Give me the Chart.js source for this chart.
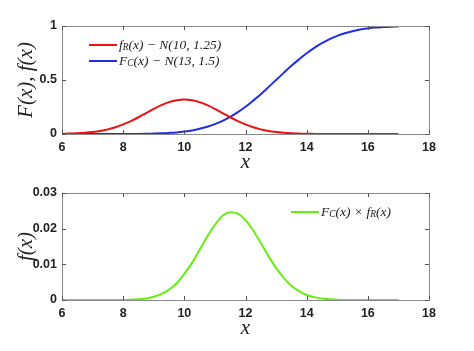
<!DOCTYPE html>
<html>
<head>
<meta charset="utf-8">
<script src="https://cdn.jsdelivr.net/npm/chart.js@4"></script>
<style>
  body { margin: 0; background: #fff; }
  #wrap { position: relative; width: 474px; height: 351px; }
  .box { position: absolute; left: 0; width: 474px; }
</style>
</head>
<body>
<div id="wrap">
  <div class="box" style="top:0;height:175px"><canvas id="top"></canvas></div>
  <div class="box" style="top:175px;height:176px"><canvas id="bottom"></canvas></div>
</div>
<script>
// valores (paso 0.25 en x)
const xs = [6,6.25,6.5,6.75,7,7.25,7.5,7.75,8,8.25,8.5,8.75,9,9.25,9.5,9.75,10,10.25,10.5,10.75,11,11.25,11.5,11.75,12,12.25,12.5,12.75,13,13.25,13.5,13.75,14,14.25,14.5,14.75,15,15.25,15.5,15.75,16,16.25,16.5,16.75,17];
const fR = [0.002,0.004,0.006,0.011,0.018,0.028,0.043,0.063,0.089,0.120,0.155,0.194,0.232,0.267,0.295,0.313,0.319,0.313,0.295,0.267,0.232,0.194,0.155,0.120,0.089,0.063,0.043,0.028,0.018,0.011,0.006,0.004,0.002,0.001,0,0,0,0,0,0,0,0,0,0,0];
const FC = [0,0,0,0,0,0,0,0,0,0.001,0.001,0.002,0.004,0.006,0.010,0.015,0.023,0.033,0.048,0.067,0.091,0.122,0.159,0.202,0.252,0.309,0.369,0.434,0.5,0.566,0.631,0.691,0.748,0.798,0.841,0.878,0.909,0.933,0.952,0.967,0.977,0.985,0.990,0.994,0.996];
const prod = [0,0,0,0,0,0,0,0,0,0.0001,0.0002,0.0004,0.0009,0.0017,0.0029,0.0047,0.0073,0.0104,0.0141,0.0178,0.0211,0.0236,0.0246,0.0242,0.0224,0.0195,0.0160,0.0123,0.0090,0.0062,0.0040,0.0025,0.0014,0.0008,0.0004,0.0002,0.0001,0,0,0,0,0,0,0,0];
const xTicks = [6,8,10,12,14,16,18];
const yTicksTop = [0,0.5,1];
const yTicksBot = [0,0.01,0.02,0.03];

const rojo = '#ee1111', azul = '#1f2fe0', verde = '#66ee11';
const serif = '"Liberation Serif", "DejaVu Serif", serif';

function pts(ys) { return xs.map((x, i) => ({ x: x, y: ys[i] })); }

// texto con subindice: partes [texto, esSub]
function textoMath(ctx, partes, x, y, size) {
  for (const [t, sub] of partes) {
    ctx.font = 'italic ' + (sub ? size * 0.7 : size) + 'px ' + serif;
    ctx.fillText(t, x, sub ? y + size * 0.22 : y);
    x += ctx.measureText(t).width;
  }
}

// caja estilo matlab con marcas hacia dentro + leyenda propia
const cajaPlugin = {
  id: 'caja',
  afterDraw(chart, args, opts) {
    const { ctx, chartArea: a, scales } = chart;
    ctx.save();
    ctx.strokeStyle = '#8a8a8a';
    ctx.lineWidth = 1;
    ctx.strokeRect(a.left + 0.5, a.top + 0.5, a.right - a.left, a.bottom - a.top);
    ctx.strokeStyle = '#555';
    ctx.beginPath();
    for (const v of xTicks) {
      const px = Math.round(scales.x.getPixelForValue(v)) + 0.5;
      ctx.moveTo(px, a.bottom); ctx.lineTo(px, a.bottom - 4);
      ctx.moveTo(px, a.top); ctx.lineTo(px, a.top + 4);
    }
    for (const v of opts.yTicks) {
      const py = Math.round(scales.y.getPixelForValue(v)) + 0.5;
      ctx.moveTo(a.left, py); ctx.lineTo(a.left + 4, py);
      ctx.moveTo(a.right, py); ctx.lineTo(a.right - 4, py);
    }
    ctx.stroke();
    // leyenda
    ctx.fillStyle = '#222';
    ctx.textBaseline = 'middle';
    for (const item of opts.items) {
      ctx.strokeStyle = item.color;
      ctx.lineWidth = 2;
      ctx.beginPath();
      ctx.moveTo(item.x, item.y); ctx.lineTo(item.x + 28, item.y);
      ctx.stroke();
      textoMath(ctx, item.partes, item.x + 30, item.y, 13.5);
    }
    ctx.restore();
  }
};

function ejes(yMin, yMax, yTicks, yLabel, yFmt, altoX) {
  return {
    x: {
      type: 'linear', min: 6, max: 18,
      afterBuildTicks: s => { s.ticks = xTicks.map(v => ({ value: v })); },
      afterFit: s => { s.height = altoX; },
      grid: { display: false, drawTicks: false },
      border: { display: false },
      ticks: { color: '#222', font: { family: 'Arial, "Liberation Sans"', weight: 'bold', size: 12.5 }, padding: 6 },
      title: { display: true, text: 'x', color: '#222', font: { family: serif, style: 'italic', size: 21 }, padding: { top: 0, bottom: 0 } }
    },
    y: {
      type: 'linear', min: yMin, max: yMax,
      afterBuildTicks: s => { s.ticks = yTicks.map(v => ({ value: v })); },
      afterFit: s => { s.width = 48; },
      grid: { display: false, drawTicks: false },
      border: { display: false },
      ticks: { color: '#222', font: { family: 'Arial, "Liberation Sans"', weight: 'bold', size: 12.5 }, padding: 5, callback: yFmt },
      title: { display: true, text: yLabel, color: '#222', font: { family: serif, style: 'italic', size: 21 }, padding: { top: 0, bottom: 0 } }
    }
  };
}

const comunes = {
  responsive: true, maintainAspectRatio: false, animation: false,
  elements: { point: { radius: 0 }, line: { borderWidth: 2, tension: 0.4, cubicInterpolationMode: 'monotone' } },
  plugins: { legend: { display: false }, tooltip: { enabled: false } }
};

new Chart(document.getElementById('top'), {
  type: 'line',
  data: {
    datasets: [
      { label: 'fR(x) − N(10,1.25)', data: pts(fR), borderColor: rojo },
      { label: 'FC(x) − N(13,1.5)', data: pts(FC), borderColor: azul }
    ]
  },
  options: Object.assign({}, comunes, {
    layout: { padding: { top: 26, right: 45, left: 14, bottom: 0 } },
    scales: ejes(0, 1, yTicksTop, 'F(x), f(x)', v => v === 0.5 ? '0.5' : String(v), 41),
    plugins: Object.assign({}, comunes.plugins, {
      caja: { yTicks: yTicksTop, items: [
        { color: rojo, x: 89, y: 45, partes: [['f', false], ['R', true], ['(x) − N(10, 1.25)', false]] },
        { color: azul, x: 89, y: 61, partes: [['F', false], ['C', true], ['(x) − N(13, 1.5)', false]] }
      ] }
    })
  }),
  plugins: [cajaPlugin]
});

new Chart(document.getElementById('bottom'), {
  type: 'line',
  data: {
    datasets: [
      { label: 'FC(x) × fR(x)', data: pts(prod), borderColor: verde }
    ]
  },
  options: Object.assign({}, comunes, {
    layout: { padding: { top: 18, right: 45, left: 14, bottom: 10 } },
    scales: ejes(0, 0.03, yTicksBot, 'f(x)', v => String(Math.round(v * 100) / 100), 41),
    plugins: Object.assign({}, comunes.plugins, {
      caja: { yTicks: yTicksBot, items: [
        { color: verde, x: 291, y: 37, partes: [['F', false], ['C', true], ['(x) × f', false], ['R', true], ['(x)', false]] }
      ] }
    })
  }),
  plugins: [cajaPlugin]
});
</script>
</body>
</html>
